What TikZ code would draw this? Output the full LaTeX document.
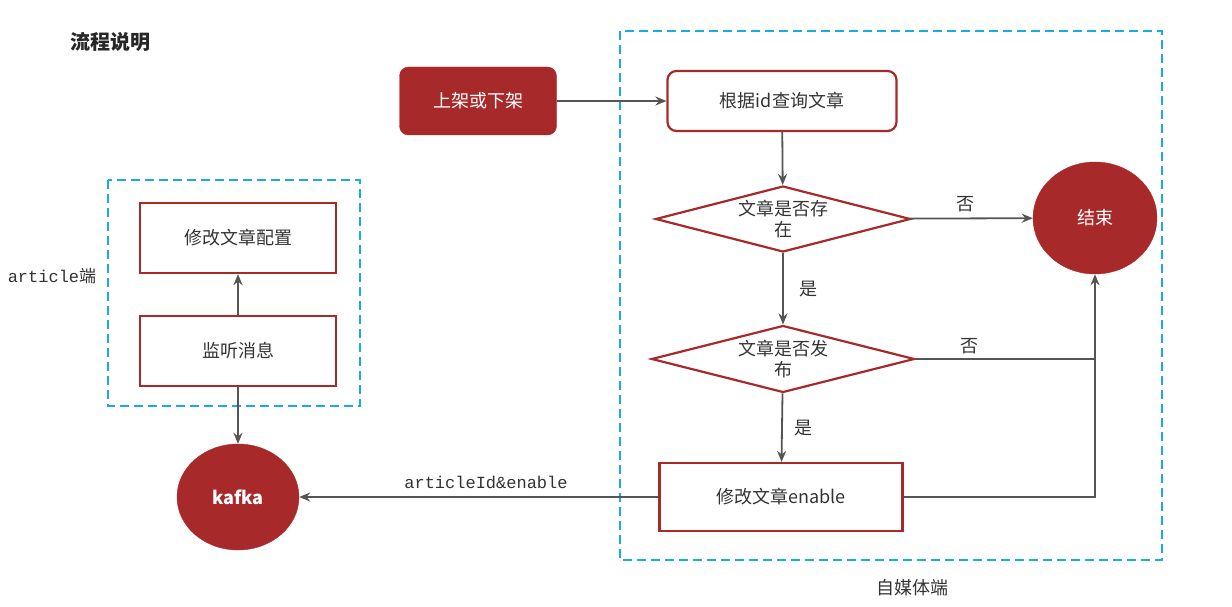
\documentclass[tikz,border=0pt]{standalone}
\usepackage{fontspec}
\setmainfont{Noto Sans CJK SC}
\newfontfamily\monof{Liberation Mono}
\usetikzlibrary{shapes.geometric,arrows.meta}
\definecolor{dred}{HTML}{A8292A}
\definecolor{dblue}{HTML}{1AABE6}
\definecolor{lgray}{HTML}{555555}
\begin{document}
\begin{tikzpicture}[x=1pt,y=-1pt,
  txt/.style={font=\fontsize{18}{21}\selectfont, text=black!80},
  redfill/.style={fill=dred, draw=dred, text=white, font=\fontsize{18}{21}\selectfont},
  rbox/.style={draw=dred, line width=2.2pt, txt},
  dbox/.style={draw=dblue, line width=2.8pt, dash pattern=on 9pt off 5pt},
  arr/.style={draw=lgray, line width=1.8pt, -{Stealth[length=11pt,width=9pt]}},
  ln/.style={draw=lgray, line width=1.8pt},
  lab/.style={txt}]
\useasboundingbox (0,0) rectangle (1232,607);
\node[font=\bfseries\fontsize{20}{24}\selectfont, text=black!85] (title) at (110,42) {流程说明};
\draw[dbox] (620,31) rectangle (1162,560);
\draw[dbox] (108,180) rectangle (360,406);
\node[txt, font=\monof\fontsize{17}{20}\selectfont] (art) at (52,276) {article\fontspec{Noto Sans CJK SC}端};
\node[txt] (zmt) at (912,588) {自媒体端};
\node[redfill, rounded corners=9pt, minimum width=157pt, minimum height=68pt] (sj) at (478,101) {上架或下架};
\node[rbox, rounded corners=9pt, minimum width=229pt, minimum height=60pt] (cx) at (782,101) {根据id查询文章};
\node[rbox, diamond, aspect=3.9, minimum width=255pt, minimum height=66pt, inner sep=0pt, align=center] (d1) at (783,219) {};
\node[txt, align=center] at (783,219) {文章是否存\\在};
\node[rbox, diamond, aspect=3.9, minimum width=263pt, minimum height=67pt, inner sep=0pt] (d2) at (783,359) {};
\node[txt, align=center] at (783,359) {文章是否发\\布};
\node[redfill, ellipse, minimum width=124pt, minimum height=112pt] (end) at (1095,218) {结束};
\node[rbox, minimum width=243pt, minimum height=68pt] (en) at (781,497) {修改文章enable};
\node[redfill, ellipse, minimum width=122pt, minimum height=106pt, font=\bfseries\fontsize{18}{21}\selectfont] (kf) at (238,497) {kafka};
\node[rbox, minimum width=196pt, minimum height=70pt] (pz) at (238,238) {修改文章配置};
\node[rbox, minimum width=196pt, minimum height=70pt] (jt) at (238,351) {监听消息};
\draw[arr] (sj) -- (cx);
\draw[arr] (cx) -- (d1);
\draw[arr] (d1) -- node[lab, pos=0.45, above=2pt]{否} (end);
\draw[arr] (d1) -- node[lab, right=12pt]{是} (d2);
\draw[arr] (d2) -- node[lab, right=8pt]{是} (en);
\coordinate (c2) at (1095,359);
\coordinate (c3) at (1095,497);
\draw[ln] (d2.east) -- node[lab, pos=0.3, above=1pt]{否} (c2);
\draw[arr] (en.east) -- (c3) -- (end.south);
\draw[arr] (en) -- node[lab, above=4pt, font=\monof\fontsize{17}{20}\selectfont, pos=0.48]{articleId\&enable} (kf);
\draw[arr] (jt) -- (pz);
\draw[arr] (jt) -- (kf);
\end{tikzpicture}
\end{document}
